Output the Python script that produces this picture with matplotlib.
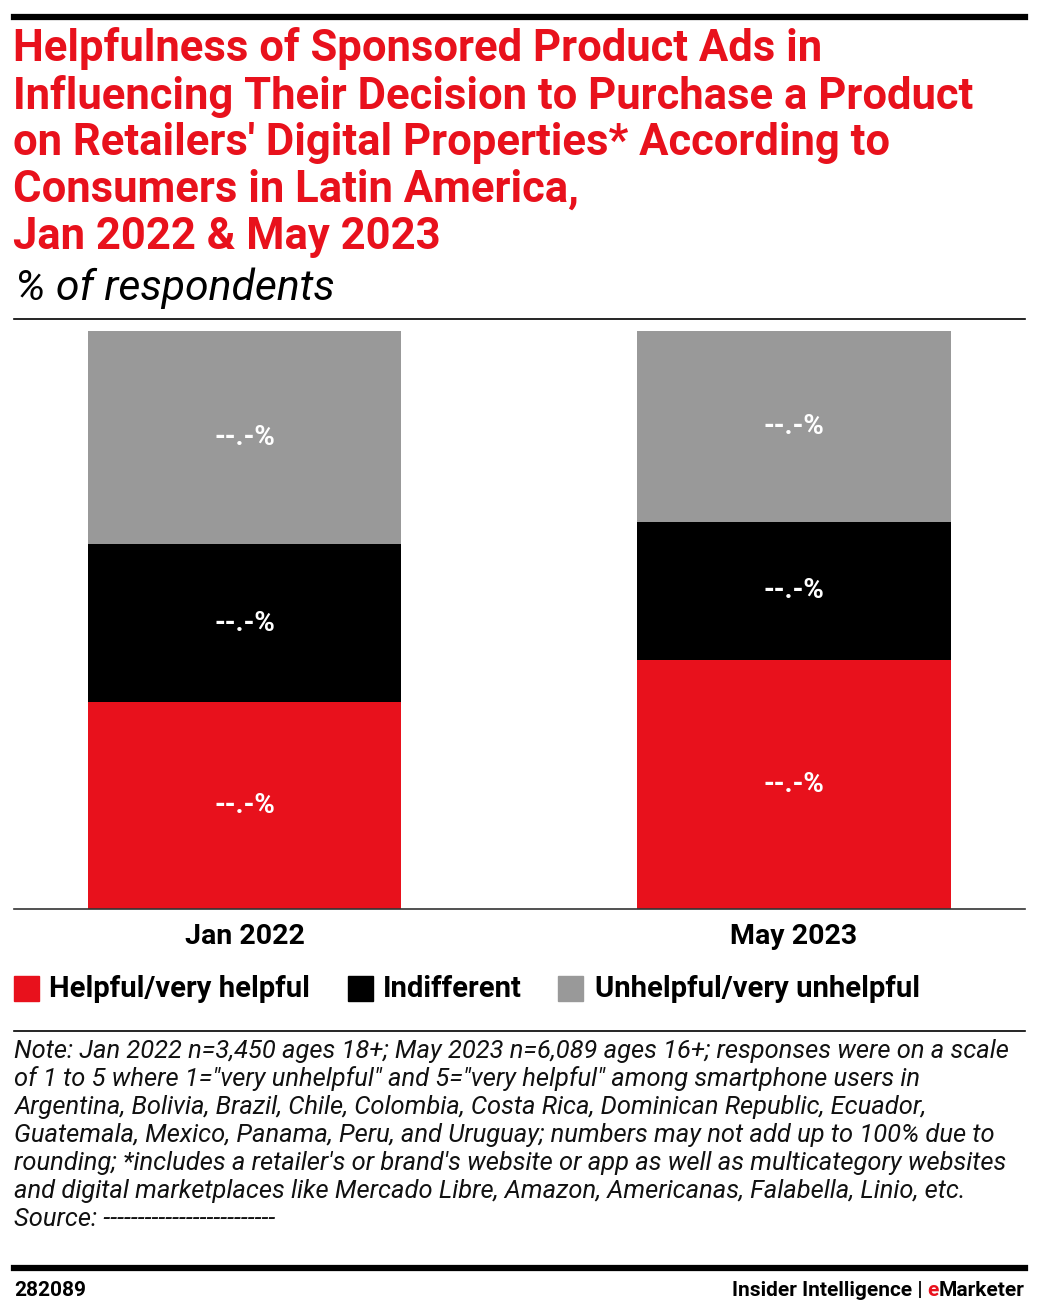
import matplotlib
matplotlib.use("Agg")
import matplotlib.pyplot as plt

# data (values hidden in the source)
periods = ["Jan 2022", "May 2023"]
series = ["Helpful/very helpful", "Indifferent", "Unhelpful/very unhelpful"]
helpful = [35.8, 43.1]
indifferent = [27.3, 23.9]
unhelpful = [36.9, 33.0]
value_labels = ["--.-%", "--.-%"]

colors = ["#e8111c", "#000000", "#999999"]

W, H = 1038, 1314
plt.rcParams['font.family'] = ['Roboto', 'DejaVu Sans']
fig = plt.figure(figsize=(W / 100, H / 100), dpi=100)
renderer = fig.canvas.get_renderer()


def fy(px):
    return 1 - px / H


def fx(px):
    return px / W


def fit_size(text, size, target, **kw):
    # font size that makes `text` about `target` px wide
    t = fig.text(0, 0, text, fontsize=size, **kw)
    w = t.get_window_extent(renderer).width
    t.remove()
    return size * target / w


# top thick rule
fig.add_artist(plt.Line2D([fx(14), fx(1025)], [fy(17), fy(17)], color="black", lw=4.5))

title_lines = [
    "Helpfulness of Sponsored Product Ads in",
    "Influencing Their Decision to Purchase a Product",
    "on Retailers' Digital Properties* According to",
    "Consumers in Latin America,",
    "Jan 2022 & May 2023",
]
tsize = fit_size(title_lines[1], 25, 963, fontweight="bold")
for i, line in enumerate(title_lines):
    fig.text(fx(13), fy(49 + 47 * i), line, color="#e8111c", fontsize=tsize,
             fontweight="bold", va="center", ha="left")

ssize = fit_size("% of respondents", 25, 320, style="italic")
fig.text(fx(15), fy(288), "% of respondents", fontsize=ssize, style="italic",
         va="center", ha="left")
fig.add_artist(plt.Line2D([fx(14), fx(1025)], [fy(319), fy(319)], color="black", lw=1.2))

# chart
ax = fig.add_axes([fx(14), fy(909), fx(1011), 578 / H])
x = range(len(periods))
bottom = [0, 0]
for vals, col in zip([helpful, indifferent, unhelpful], colors):
    ax.bar(x, vals, width=0.57, bottom=bottom, color=col)
    for i, v in enumerate(vals):
        ax.text(i, bottom[i] + v / 2, value_labels[i], color="white", fontsize=20,
                fontweight="bold", ha="center", va="center")
    bottom = [b + v for b, v in zip(bottom, vals)]

ax.set_xlim(-0.4194, 1.4204)
ax.set_ylim(0, 100)
for s in ["top", "right", "left"]:
    ax.spines[s].set_visible(False)
ax.spines["bottom"].set_color("#333333")
ax.spines["bottom"].set_linewidth(1.2)
ax.set_yticks([])
ax.set_xticks(list(x))
ax.set_xticklabels(periods, fontsize=20.5, fontweight="bold")
ax.tick_params(axis="x", length=0, pad=10)

# legend
legend_pos = [(14, 49), (348, 383), (558, 595)]
lsize = fit_size(series[0], 18, 261, fontweight="bold")
for (sx, tx), name, col in zip(legend_pos, series, colors):
    fig.add_artist(plt.Rectangle((fx(sx), fy(1001)), fx(25), 25 / H, color=col))
    fig.text(fx(tx), fy(989), name, fontsize=lsize, fontweight="bold", va="center", ha="left")

fig.add_artist(plt.Line2D([fx(14), fx(1025)], [fy(1031), fy(1031)], color="black", lw=1.2))

note_lines = [
    'Note: Jan 2022 n=3,450 ages 18+; May 2023 n=6,089 ages 16+; responses were on a scale',
    'of 1 to 5 where 1="very unhelpful" and 5="very helpful" among smartphone users in',
    'Argentina, Bolivia, Brazil, Chile, Colombia, Costa Rica, Dominican Republic, Ecuador,',
    'Guatemala, Mexico, Panama, Peru, and Uruguay; numbers may not add up to 100% due to',
    "rounding; *includes a retailer's or brand's website or app as well as multicategory websites",
    'and digital marketplaces like Mercado Libre, Amazon, Americanas, Falabella, Linio, etc.',
    'Source: -------------------------',
]
nsize = fit_size(note_lines[0], 15, 998, style="italic")
for i, line in enumerate(note_lines):
    fig.text(fx(14), fy(1051 + 28 * i), line, fontsize=nsize, style="italic",
             va="center", ha="left", color="#111111")

fig.add_artist(plt.Line2D([fx(14), fx(1025)], [fy(1268), fy(1268)], color="black", lw=4.5))
fig.text(fx(14), fy(1290), "282089", fontsize=15, fontweight="bold", va="center", ha="left")

# footer brand, right aligned with red "e"
t1 = fig.text(fx(1025), fy(1290), "Marketer", fontsize=15, fontweight="bold",
              va="center", ha="right")
w1 = t1.get_window_extent(renderer).width
t2 = fig.text(fx(1025 - w1), fy(1290), "e", fontsize=15, fontweight="bold",
              va="center", ha="right", color="#e8111c")
w2 = t2.get_window_extent(renderer).width
fig.text(fx(1025 - w1 - w2), fy(1290), "Insider Intelligence | ", fontsize=15,
         fontweight="bold", va="center", ha="right")

fig.savefig("out.png", dpi=100)
